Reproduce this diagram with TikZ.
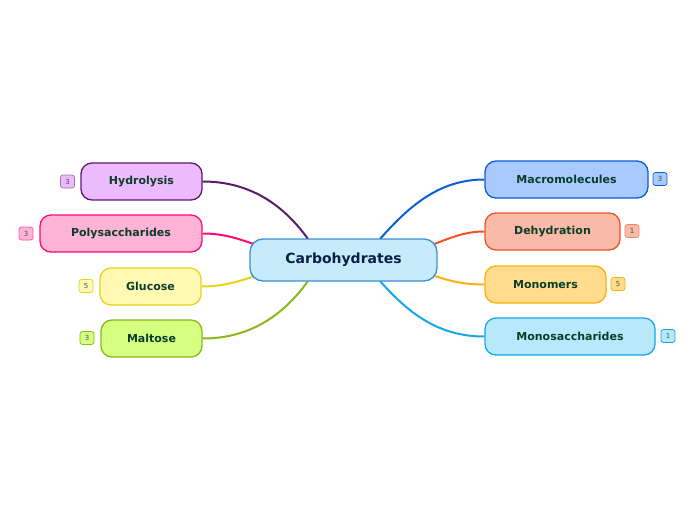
\documentclass[tikz,border=0pt]{standalone}
\usepackage{fontspec}
\setmainfont{DejaVu Sans}
\begin{document}
\begin{tikzpicture}[x=1pt,y=-1pt,
  topic/.style={draw=#1, line width=1.3pt, rounded corners=11pt, minimum height=37pt, inner xsep=0pt, font=\bfseries\fontsize{11}{13}\selectfont, text=lbl},
  badge/.style={draw=#1, line width=0.7pt, rounded corners=2.5pt, minimum width=14pt, minimum height=13pt, inner sep=0pt, font=\fontsize{7}{8}\selectfont, text=black!70},
  conn/.style={draw=#1, line width=2pt}]
\definecolor{lbl}{HTML}{0A3D2A}
\definecolor{ctx}{HTML}{0A1E46}
\definecolor{hyb}{HTML}{5C1A6E}\definecolor{hyf}{HTML}{EDBBFD}
\definecolor{pob}{HTML}{FF0A78}\definecolor{pof}{HTML}{FFB3D6}
\definecolor{glb}{HTML}{E8D21A}\definecolor{glf}{HTML}{FFF9B3}
\definecolor{mab}{HTML}{8AB81A}\definecolor{maf}{HTML}{D4FF80}
\definecolor{mcb}{HTML}{0A5FD6}\definecolor{mcf}{HTML}{A8CAFF}
\definecolor{deb}{HTML}{F0522A}\definecolor{def}{HTML}{F9BBA8}
\definecolor{mob}{HTML}{FAB10A}\definecolor{mof}{HTML}{FFDD8C}
\definecolor{msb}{HTML}{18A6E8}\definecolor{msf}{HTML}{B8E8FC}
\definecolor{ceb}{HTML}{3A8FCF}\definecolor{cef}{HTML}{C6ECFC}
\useasboundingbox (0,0) rectangle (696,520);
\fill[white] (0,0) rectangle (696,520);
\coordinate (s1) at (308,239);\coordinate (s2) at (256,245);\coordinate (s3) at (258,275);\coordinate (s4) at (308,281);
\coordinate (s5) at (380,239);\coordinate (s6) at (432,245);\coordinate (s7) at (432,275);\coordinate (s8) at (380,281);
\node[topic=hyb, fill=hyf, minimum width=121pt] (hy) at (141.5,181.5) {Hydrolysis};
\node[topic=pob, fill=pof, minimum width=162pt] (po) at (121,233.5) {Polysaccharides};
\node[topic=glb, fill=glf, minimum width=101pt] (gl) at (150.5,286.5) {Glucose};
\node[topic=mab, fill=maf, minimum width=101pt] (ma) at (151.5,338.5) {Maltose};
\node[topic=mcb, fill=mcf, minimum width=163pt] (mc) at (566.5,179.5) {Macromolecules};
\node[topic=deb, fill=def, minimum width=135pt] (de) at (552.5,231.5) {Dehydration};
\node[topic=mob, fill=mof, minimum width=121pt] (mo) at (545.5,284.5) {Monomers};
\node[topic=msb, fill=msf, minimum width=170pt] (ms) at (570,336.5) {Monosaccharides};
\draw[conn=hyb] (s1) .. controls (280,200) and (245,181.5) .. (hy.east);
\draw[conn=pob] (s2) .. controls (235,237) and (220,233.5) .. (po.east);
\draw[conn=glb] (s3) .. controls (235,283) and (220,286.5) .. (gl.east);
\draw[conn=mab] (s4) .. controls (280,320) and (245,338.5) .. (ma.east);
\draw[conn=mcb] (s5) .. controls (410,205) and (440,179.5) .. (mc.west);
\draw[conn=deb] (s6) .. controls (452,237) and (466,231.5) .. (de.west);
\draw[conn=mob] (s7) .. controls (452,282) and (466,284.5) .. (mo.west);
\draw[conn=msb] (s8) .. controls (410,315) and (440,336.5) .. (ms.west);
\node[draw=ceb, fill=cef, line width=1.3pt, rounded corners=13pt, minimum width=187pt, minimum height=42pt, font=\bfseries\fontsize{14}{16}\selectfont, text=ctx] (c) at (343.5,260) {Carbohydrates};
\node[badge=hyb!60, fill=hyf] (b1) at (67.5,181.5) {3};
\node[badge=pob!70, fill=pof] (b2) at (26,233.5) {3};
\node[badge=glb, fill=glf] (b3) at (86,286) {5};
\node[badge=mab, fill=maf] (b4) at (87,338) {3};
\node[badge=mcb, fill=mcf] (b5) at (660,179) {3};
\node[badge=deb!70, fill=def] (b6) at (632,231) {1};
\node[badge=mob, fill=mof] (b7) at (618,284) {5};
\node[badge=msb, fill=msf] (b8) at (668,336) {1};
\end{tikzpicture}
\end{document}
